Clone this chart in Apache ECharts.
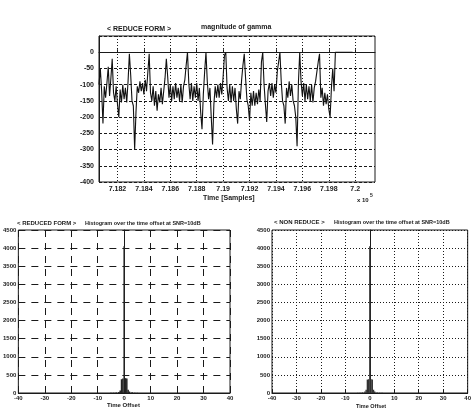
<!DOCTYPE html>
<html><head><meta charset="utf-8">
<script src="https://cdn.jsdelivr.net/npm/echarts@6/dist/echarts.min.js"></script>
<style>html,body{margin:0;padding:0;background:#fff}#c{width:474px;height:411px}</style>
</head><body><div id="c"></div>
<script>
// ---- Top chart: magnitude of gamma (x in units of 1e5 samples)
const gammaStartSample = 718060;
const gammaStepSamples = 10;
const gammaValues = [
  -100, -50, -120, -220, -105, -140, -95, -45, -135, -80,
  -20, -125, -150, -105, -160, -200, -115, -155, -100, -145,
  -110, -155, -90, -5, -70, -150, -165, -300, -185, -105,
  -125, -90, -120, -95, -130, -85, -120, -60, -5, -125,
  -150, -105, -165, -120, -180, -130, -155, -110, -160, -120,
  -80, -20, -75, -140, -100, -150, -105, -145, -95, -140,
  -110, -150, -100, -155, -105, -85, -40, 0, -95, -145,
  -95, -150, -105, -140, -95, -150, -110, -185, -237, -130,
  -60, 0, -90, -145, -110, -200, -284, -160, -105, -140,
  -100, -140, -95, -130, -75, -10, 0, -110, -150, -100,
  -155, -105, -150, -110, -175, -220, -120, -145, -85, -40,
  -5, -80, -145, -165, -212, -125, -165, -120, -165, -125,
  -160, -115, -150, -30, 0, -100, -160, -215, -120, -95,
  -135, -95, -140, -100, -125, -60, -30, 0, -90, -150,
  -165, -220, -110, -140, -90, -135, -100, -150, -165, -200,
  -290, -95, 0, -90, -135, -95, -150, -100, -145, -105,
  -150, -100, -155, -110, -90, -60, -30, -5, -140, -110,
  -165, -125, -160, -130, -175, -200, -110, -50, -120, 0,
  0, 0, 0, 0, 0, 0, 0, 0, 0, 0, 0, 0, 0
];
const topXTicks = [7.182, 7.184, 7.186, 7.188, 7.19, 7.192, 7.194, 7.196, 7.198, 7.2];

// ---- Bottom histograms
const histOffsetsLeft = [-5, -4, -3, -2, -1.5, -1, -0.5, 0, 0.5, 1, 1.5, 2, 3, 4, 5];
const histCountsLeft  = [5, 8, 15, 30, 70, 380, 400, 4050, 410, 400, 90, 40, 20, 10, 5];
const histOffsetsRight = [-5, -4, -3, -2, -1.5, -1, -0.5, 0, 0.5, 1, 1.5, 2, 3, 4, 5];
const histCountsRight  = [5, 8, 15, 40, 90, 370, 380, 4050, 380, 370, 90, 40, 15, 8, 5];

const gammaData = gammaValues.map((v, i) => [(gammaStartSample + i * gammaStepSamples) / 1e5, v]);
const leftData = histOffsetsLeft.map((x, i) => [x, histCountsLeft[i]]);
const rightData = histOffsetsRight.map((x, i) => [x, histCountsRight[i]]);

const INK = '#1a1a1a';
const FONT = 'Liberation Sans';
const plain = v => String(v);

function histX(gridIndex, dash) {
  return {
    type: 'value', gridIndex, min: -40, max: 40, interval: 10,
    axisLine: { lineStyle: { color: INK } },
    axisTick: { inside: true, length: 3, lineStyle: { color: INK } },
    axisLabel: { color: INK, fontSize: 6, fontFamily: FONT, fontWeight: 'bold', margin: 2, formatter: plain },
    splitLine: { show: true, lineStyle: { color: INK, type: dash, width: 1 } }
  };
}
function histY(gridIndex, dash) {
  return {
    type: 'value', gridIndex, min: 0, max: 4500, interval: 500,
    axisLine: { show: true, lineStyle: { color: INK } },
    axisTick: { inside: true, length: 3, lineStyle: { color: INK } },
    axisLabel: { color: INK, fontSize: 6, fontFamily: FONT, fontWeight: 'bold', margin: 2, formatter: plain },
    splitLine: { show: true, lineStyle: { color: INK, type: dash, width: 1 } }
  };
}

const chart = echarts.init(document.getElementById('c'), null, { renderer: 'canvas' });
chart.setOption({
  backgroundColor: '#fff',
  animation: false,
  textStyle: { fontFamily: FONT },
  grid: [
    { left: 99, top: 36, width: 276, height: 146, show: true, borderColor: INK, borderWidth: 1, backgroundColor: 'transparent' },
    { left: 13, top: 230, width: 217, height: 163, show: true, borderColor: INK, borderWidth: 1, backgroundColor: 'transparent' },
    { left: 272, top: 230, width: 198, height: 163, show: true, borderColor: INK, borderWidth: 1, backgroundColor: 'transparent' }
  ],
  xAxis: [
    {
      type: 'value', gridIndex: 0, min: 7.1806, max: 7.2015,
      axisLine: { lineStyle: { color: INK } },
      axisTick: { inside: true, length: 3, customValues: topXTicks, lineStyle: { color: INK } },
      axisLabel: { customValues: topXTicks, color: INK, fontSize: 7, fontFamily: FONT, fontWeight: 'bold', margin: 4,
        formatter: v => String(+v.toFixed(3)) },
      splitLine: { show: true, lineStyle: { color: INK, type: [1, 2], width: 1 } }
    },
    histX(1, [7, 6]),
    histX(2, [1, 2])
  ],
  yAxis: [
    {
      type: 'value', gridIndex: 0, min: -400, max: 50, interval: 50,
      axisLine: { show: true, lineStyle: { color: INK } },
      axisTick: { inside: true, length: 3, lineStyle: { color: INK } },
      axisLabel: { color: INK, fontSize: 7, fontFamily: FONT, fontWeight: 'bold', margin: 5, showMaxLabel: false },
      splitLine: { show: true, lineStyle: { color: INK, type: [3, 2], width: 1 } }
    },
    histY(1, [7, 6]),
    histY(2, [1, 2])
  ],
  series: [
    { type: 'line', xAxisIndex: 0, yAxisIndex: 0, data: gammaData, symbol: 'none',
      lineStyle: { color: '#111', width: 1.1 } },
    { type: 'bar', xAxisIndex: 1, yAxisIndex: 1, data: leftData, barWidth: 1.5,
      itemStyle: { color: '#222' } },
    { type: 'bar', xAxisIndex: 2, yAxisIndex: 2, data: rightData, barWidth: 1.4,
      itemStyle: { color: '#333' } }
  ],
  graphic: [
    { type: 'text', left: 107, top: 26, style: { text: '< REDUCE FORM >', font: 'bold 7px "Liberation Sans"', fill: INK } },
    { type: 'text', left: 201, top: 24, style: { text: 'magnitude of gamma', font: 'bold 7px "Liberation Sans"', fill: INK } },
    { type: 'text', left: 203, top: 195, style: { text: 'Time [Samples]', font: 'bold 7px "Liberation Sans"', fill: INK } },
    { type: 'text', left: 357, top: 197, style: { text: 'x 10', font: 'bold 6px "Liberation Sans"', fill: INK } },
    { type: 'text', left: 370, top: 193, style: { text: '5', font: 'bold 5px "Liberation Sans"', fill: INK } },
    { type: 'text', left: 17, top: 220, style: { text: '< REDUCED FORM >', font: 'bold 6px "Liberation Sans"', fill: INK } },
    { type: 'text', left: 85, top: 220, style: { text: 'Histogram over the time offset at SNR=10dB', font: 'bold 5.5px "Liberation Sans"', fill: INK } },
    { type: 'text', left: 107, top: 402, style: { text: 'Time Offset', font: 'bold 6px "Liberation Sans"', fill: INK } },
    { type: 'text', left: 274, top: 219, style: { text: '< NON REDUCE >', font: 'bold 6px "Liberation Sans"', fill: INK } },
    { type: 'text', left: 334, top: 219, style: { text: 'Histogram over the time offset at SNR=10dB', font: 'bold 5.5px "Liberation Sans"', fill: INK } },
    { type: 'text', left: 356, top: 403, style: { text: 'Time Offset', font: 'bold 5.5px "Liberation Sans"', fill: INK } }
  ]
});
</script>
</body></html>
